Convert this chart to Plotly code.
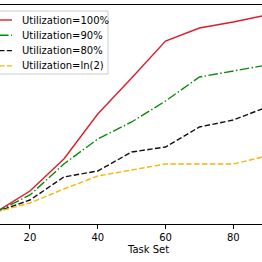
import plotly.graph_objects as go

task_sets = [10, 20, 30, 40, 50, 60, 70, 80, 90]
util_100 = [12, 33, 65, 110, 146, 183, 196, 202, 209]
util_90 = [12, 29, 60, 85, 102, 123, 147, 153, 159]
util_80 = [12, 24, 47, 53, 72, 77, 97, 104, 117]
util_ln2 = [12, 21, 35, 48, 54, 60, 60, 60, 68]
names = ["Utilization=100%", "Utilization=90%", "Utilization=80%", "Utilization=ln(2)"]
colors = ["#dd1c2a", "#0a8a0a", "#111111", "#f2b80c"]
dashes = ["solid", "9.6px,2.4px,1.5px,2.4px", "5.5px,2.4px", "5.5px,2.4px"]
x_ticks = [20, 40, 60, 80]

W, H = 262, 262
T, B = 5, 38
PH = H - T - B


def px(x):
    return x / W


def py(y):
    return (H - B - y) / PH


fig = go.Figure()
for ys, nm, c, d in zip([util_100, util_90, util_80, util_ln2], names, colors, dashes):
    fig.add_trace(go.Scatter(x=task_sets, y=ys, mode="lines", name=nm,
                             line=dict(color=c, width=1.4, dash=d)))

# manual legend (matplotlib-like compact spacing)
fig.add_shape(type="rect", xref="paper", yref="paper",
              x0=px(-10), x1=px(108), y0=py(74), y1=py(11),
              line=dict(color="#cccccc", width=1), fillcolor="rgba(255,255,255,0.85)",
              layer="above")
for i, (nm, c, d) in enumerate(zip(names, colors, dashes)):
    yc = 20 + i * 15.3
    fig.add_shape(type="line", xref="paper", yref="paper",
                  x0=px(-1), x1=px(12), y0=py(yc), y1=py(yc),
                  line=dict(color=c, width=1.4, dash=d), layer="above")
    fig.add_annotation(text=nm, xref="paper", yref="paper", x=px(19.5), y=py(yc),
                       xanchor="left", yanchor="middle", showarrow=False,
                       font=dict(size=10, color="black"))

fig.update_layout(
    width=W, height=H,
    margin=dict(l=0, r=0, t=T, b=B, autoexpand=False),
    paper_bgcolor="white", plot_bgcolor="white",
    font=dict(family="DejaVu Sans", size=10, color="black"),
    showlegend=False,
    xaxis=dict(range=[11.15, 88.48], tickvals=x_ticks, ticks="outside", ticklen=3.5,
               tickcolor="black", showline=True, linecolor="black", linewidth=1,
               mirror=True, showgrid=False, zeroline=False,
               tickfont=dict(size=10)),
    yaxis=dict(range=[0, 219], showticklabels=False, ticks="", showline=False,
               showgrid=False, zeroline=False),
)
fig.add_annotation(text="Task Set", xref="paper", yref="paper", x=px(148), y=py(249),
                   showarrow=False, xanchor="center", yanchor="middle", font=dict(size=10))
fig.write_html("out.html")
